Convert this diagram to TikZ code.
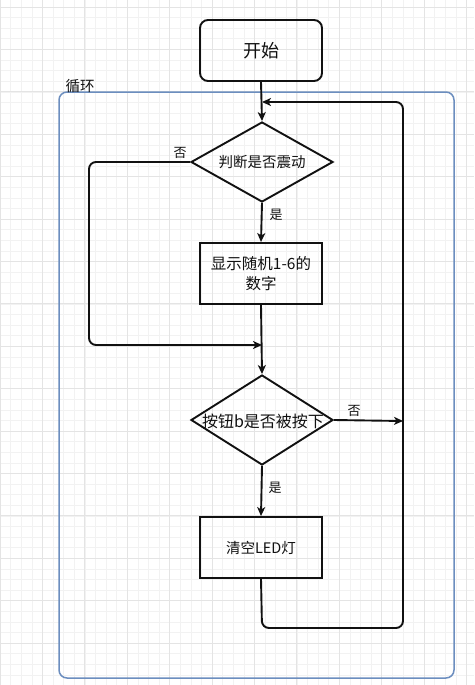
\documentclass[tikz,border=0pt]{standalone}
\usepackage{fontspec}
\setmainfont{Noto Sans CJK SC}
\usetikzlibrary{shapes.geometric,arrows.meta}
\definecolor{gridminor}{HTML}{F2F2F2}
\definecolor{gridmajor}{HTML}{E4E4E4}
\definecolor{loopblue}{HTML}{6C8EBF}
\definecolor{ink}{HTML}{111111}
\tikzset{
  box/.style={draw=ink, line width=1.9pt, minimum width=122pt, minimum height=61pt, inner sep=2pt, align=center, font=\fontsize{14.5}{19}\selectfont, text=ink},
  startbox/.style={box, rounded corners=8pt, font=\fontsize{18}{22}\selectfont},
  dia/.style={draw=ink, line width=1.9pt, shape=diamond, inner sep=0pt, minimum width=142pt},
  txt/.style={font=\fontsize{14.5}{19}\selectfont, text=ink, inner sep=0pt},
  lbl/.style={font=\fontsize{13}{16}\selectfont, text=ink, inner sep=0pt},
  arr/.style={draw=ink, line width=1.9pt, -{Stealth[length=9pt,width=8pt,inset=2.5pt]}},
  conn/.style={draw=ink, line width=1.9pt, rounded corners=7pt},
}
\begin{document}
\begin{tikzpicture}[x=1pt,y=-1pt]
\useasboundingbox (0,0) rectangle (474,685);
\fill[white] (0,0) rectangle (474,685);
% grid
\foreach \i in {0,...,45} {
  \draw[gridminor, line width=0.6pt] ({\i*10.6},0) -- ({\i*10.6},685);
}
\foreach \i in {0,...,65} {
  \draw[gridminor, line width=0.6pt] (0,{\i*10.6+7}) -- (474,{\i*10.6+7});
}
\foreach \i in {0,...,11} {
  \draw[gridmajor, line width=0.7pt] ({\i*42.4},0) -- ({\i*42.4},685);
}
\foreach \i in {0,...,16} {
  \draw[gridmajor, line width=0.7pt] (0,{\i*42.4+7}) -- (474,{\i*42.4+7});
}
% loop container
\node[draw=loopblue, line width=1.5pt, rounded corners=8pt, minimum width=395pt, minimum height=586pt, inner sep=0pt] (loop) at (256.5,385) {};
\node[font=\fontsize{14.5}{18}\selectfont, text=ink, inner sep=0pt] (looplbl) at (80,86) {循环};
% nodes
\node[startbox] (start) at (261,50.5) {开始};
\node[dia, minimum height=80pt] (d1) at (262,162) {};
\node[txt] (d1t) at (d1) {判断是否震动};
\node[box, font=\fontsize{15.5}{20}\selectfont] (b2) at (261,273.5) {显示随机1-6的\\数字};
\node[dia, minimum height=90pt] (d2) at (262,420) {};
\node[txt, font=\fontsize{16}{19}\selectfont] (d2t) at (263,421) {按钮b是否被按下};
\node[box] (b3) at (261,547.5) {清空LED灯};
% helper coordinates
\coordinate (c1) at (262,102);
\coordinate (c2) at (403,421);
\coordinate (c3) at (262,345);
% connectors
\draw[arr] (start.south) -- (d1.north);
\draw[arr] (d1.south) -- (b2.north);
\draw[arr] (b2.south) -- (d2.north);
\draw[arr] (d2.south) -- (b3.north);
\draw[conn, -{Stealth[length=9pt,width=8pt,inset=2.5pt]}] (d1.west) -- (89,162) -- (89,345) -- (c3);
\draw[arr] (d2.east) -- (c2);
\draw[conn, -{Stealth[length=9pt,width=8pt,inset=2.5pt]}] (b3.south) -- (262,628) -- (403,628) -- (403,102) -- (c1);
% labels
\node[lbl] (n1) at (180,153) {否};
\node[lbl] (y1) at (276,215) {是};
\node[lbl] (n2) at (354,411) {否};
\node[lbl] (y2) at (275,488) {是};
\end{tikzpicture}
\end{document}
